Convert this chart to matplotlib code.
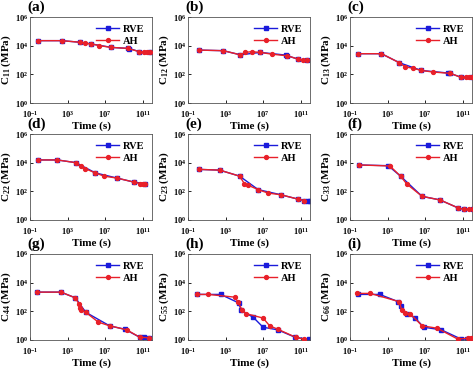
import numpy as np
import matplotlib
matplotlib.use("Agg")
import matplotlib.pyplot as plt
from matplotlib.ticker import FixedLocator, NullLocator

plt.rcParams['font.family'] = ['Liberation Serif', 'DejaVu Serif']
plt.rcParams['font.weight'] = 'bold'
plt.rcParams['mathtext.fontset'] = 'custom'
plt.rcParams['mathtext.rm'] = 'Liberation Serif:bold'
plt.rcParams['mathtext.bf'] = 'Liberation Serif:bold'
plt.rcParams['mathtext.it'] = 'Liberation Serif:bold'

panel_letters = ['(a)', '(b)', '(c)', '(d)', '(e)', '(f)', '(g)', '(h)', '(i)']
ylabels = ['11', '12', '13', '22', '23', '33', '44', '55', '66']
xticks = [1e-1, 1e3, 1e7, 1e11]
yticks = [1e0, 1e2, 1e4, 1e6]

# log10(time), log10(modulus)
ah_logt = {
    'a': [-0.19, 2.36, 4.3, 4.83, 5.54, 6.4, 7.66, 9.4, 10.66, 11.2, 11.5, 11.8],
    'b': [0.2, 2.77, 4.58, 5.1, 5.78, 6.7, 7.9, 9.6, 10.75, 11.3, 11.7],
    'c': [-0.17, 2.35, 4.26, 4.87, 5.7, 6.6, 7.86, 9.67, 10.8, 11.36, 11.72, 11.97],
    'd': [-0.14, 1.91, 3.9, 4.41, 4.89, 5.95, 6.88, 8.3, 10.1, 10.7, 11.05, 11.3],
    'e': [0.22, 2.37, 4.5, 5.0, 5.43, 6.48, 7.52, 8.9, 10.7, 11.35],
    'f': [-0.06, 3.25, 4.4, 5.05, 6.68, 8.59, 10.53, 11.18, 11.72, 12.08],
    'g': [-0.24, 2.29, 3.84, 4.19, 4.3, 4.47, 4.95, 6.27, 7.48, 9.31, 10.7, 11.63],
    'h': [-0.03, 1.16, 3.97, 4.32, 4.74, 5.19, 7.0, 7.7, 8.57, 10.48, 11.35],
    'i': [-0.24, 1.16, 4.26, 4.51, 4.87, 5.41, 6.68, 8.3, 10.46, 11.54, 11.9],
}
ah_logc = {
    'a': [4.35, 4.35, 4.24, 4.17, 4.12, 4.0, 3.88, 3.81, 3.58, 3.53, 3.53, 3.53],
    'b': [3.69, 3.65, 3.36, 3.53, 3.58, 3.53, 3.41, 3.29, 3.06, 2.99, 2.99],
    'c': [3.44, 3.44, 2.81, 2.52, 2.43, 2.27, 2.16, 2.07, 1.8, 1.8, 1.8, 1.8],
    'd': [4.19, 4.19, 4.0, 3.74, 3.58, 3.29, 3.06, 2.92, 2.64, 2.54, 2.54, 2.54],
    'e': [3.53, 3.48, 3.06, 2.54, 2.42, 2.12, 1.88, 1.76, 1.46, 1.36],
    'f': [3.84, 3.77, 3.05, 2.51, 1.65, 1.4, 0.84, 0.74, 0.74, 0.74],
    'g': [3.34, 3.34, 2.94, 2.54, 2.24, 2.07, 1.93, 1.25, 0.99, 0.71, 0.19, 0.16],
    'h': [3.18, 3.18, 2.99, 2.66, 2.12, 1.84, 1.53, 0.99, 0.75, 0.19, 0.05],
    'i': [3.25, 3.25, 2.67, 2.08, 1.89, 1.84, 0.99, 0.82, 0.07, 0.12, 0.12],
}
rve_logt = {
    'a': [-0.19, 2.36, 4.3, 5.54, 7.66, 9.4, 9.6, 10.66, 11.8],
    'b': [0.2, 2.77, 4.58, 6.7, 9.45, 9.6, 10.75, 11.7],
    'c': [-0.17, 2.35, 4.26, 6.6, 9.49, 9.67, 10.8, 11.97],
    'd': [-0.14, 1.91, 3.9, 5.95, 8.3, 10.1, 11.3],
    'e': [0.22, 2.37, 4.5, 6.48, 8.9, 10.7, 11.35, 11.77, 12.04],
    'f': [-0.06, 3.07, 4.4, 6.68, 8.59, 10.53, 11.18, 12.08],
    'g': [-0.24, 2.29, 3.84, 4.95, 7.48, 9.1, 10.7, 11.18, 11.63],
    'h': [-0.03, 2.48, 4.39, 4.67, 5.96, 7.0, 8.57, 10.41, 11.87],
    'i': [-0.17, 2.17, 4.15, 4.41, 5.05, 5.95, 6.86, 8.73, 10.82, 11.47, 12.08],
}
rve_logc = {
    'a': [4.35, 4.35, 4.24, 4.12, 3.88, 3.81, 3.8, 3.58, 3.53],
    'b': [3.69, 3.65, 3.36, 3.53, 3.34, 3.29, 3.06, 2.99],
    'c': [3.44, 3.44, 2.81, 2.27, 2.09, 2.07, 1.8, 1.8],
    'd': [4.19, 4.19, 4.0, 3.29, 2.92, 2.64, 2.54],
    'e': [3.53, 3.48, 3.06, 2.12, 1.76, 1.46, 1.36, 1.36, 1.36],
    'f': [3.84, 3.79, 3.05, 1.65, 1.4, 0.84, 0.74, 0.74],
    'g': [3.34, 3.34, 2.94, 1.93, 0.99, 0.75, 0.19, 0.19, 0.16],
    'h': [3.18, 3.18, 2.59, 2.07, 1.58, 0.89, 0.71, 0.19, 0.05],
    'i': [3.18, 3.18, 2.67, 2.36, 1.82, 1.53, 0.89, 0.71, 0.07, 0.07, 0.07],
}

fig = plt.figure(figsize=(4.74, 3.70), dpi=100)
W, H = 474.0, 370.0
col_left = [30, 188, 350]
col_w = 122
row_bottom = [103, 220, 340]
row_h = 86

keys = ['a', 'b', 'c', 'd', 'e', 'f', 'g', 'h', 'i']
for idx, k in enumerate(keys):
    r, c = divmod(idx, 3)
    ax = fig.add_axes([col_left[c] / W, 1 - row_bottom[r] / H, col_w / W, row_h / H])
    ax.set_xscale('log')
    ax.set_yscale('log')
    ax.plot(10 ** np.array(rve_logt[k]), 10 ** np.array(rve_logc[k]), '-s', color='#1a1adb',
            lw=1.0, ms=2.8, label='RVE', zorder=2)
    ax.plot(10 ** np.array(ah_logt[k]), 10 ** np.array(ah_logc[k]), '-o', color='#e8202a',
            lw=1.0, ms=2.8, label='AH', zorder=3)
    ax.set_xlim(1e-1, 1e12)
    ax.set_ylim(1e0, 1e6)
    ax.xaxis.set_major_locator(FixedLocator(xticks))
    ax.yaxis.set_major_locator(FixedLocator(yticks))
    ax.xaxis.set_minor_locator(NullLocator())
    ax.yaxis.set_minor_locator(NullLocator())
    ax.set_xticklabels([r'$\mathbf{10^{-1}}$', r'$\mathbf{10^{3}}$', r'$\mathbf{10^{7}}$', r'$\mathbf{10^{11}}$'])
    ax.set_yticklabels([r'$\mathbf{10^{0}}$', r'$\mathbf{10^{2}}$', r'$\mathbf{10^{4}}$', r'$\mathbf{10^{6}}$'])
    ax.tick_params(labelsize=6, length=2, width=0.6, direction='in')
    ax.tick_params(axis='x', pad=4)
    ax.tick_params(axis='y', pad=1.5)
    for s in ax.spines.values():
        s.set_linewidth(0.6)
        s.set_color('#555555')
    ax.set_xlabel('Time (s)', fontsize=8, fontweight='bold', labelpad=1)
    ax.set_ylabel(r'C$_{' + ylabels[idx] + r'}$ (MPa)', fontsize=8, fontweight='bold', labelpad=1)
    ax.text(-0.02, 1.03, panel_letters[idx], transform=ax.transAxes, fontsize=11,
            fontweight='bold', ha='left', va='bottom')
    ax.legend(loc='upper right', frameon=False, handlelength=2.2,
              handletextpad=0.4, labelspacing=0.3, borderaxespad=0.3,
              prop={'weight': 'bold', 'size': 7.5})

fig.savefig('out.png', dpi=100)
